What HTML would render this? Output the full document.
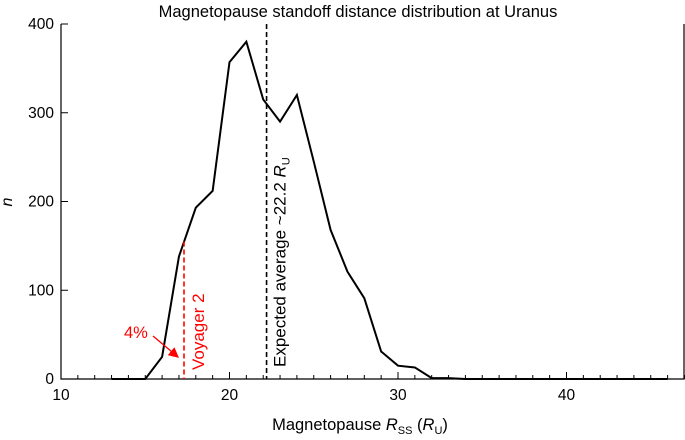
<!DOCTYPE html>
<html><head><meta charset="utf-8"><style>
body{margin:0;background:#fff}
svg text{font-family:"Liberation Sans",sans-serif}
</style></head><body>
<svg width="685" height="435" xmlns="http://www.w3.org/2000/svg">
<defs><marker id="ah" markerWidth="8" markerHeight="8" refX="7" refY="4" orient="auto"><path d="M0,0 L8,4 L0,8 z" fill="#f00"/></marker></defs>
<text x="358" y="17" font-size="16.5" text-anchor="middle">Magnetopause standoff distance distribution at Uranus</text>
<g id="axes"></g>
<g id="plot"></g>
<text x="360" y="430" font-size="16.5" text-anchor="middle">Magnetopause <tspan font-style="italic">R</tspan><tspan font-size="11" dy="4">SS</tspan><tspan dy="-4"> (</tspan><tspan font-style="italic">R</tspan><tspan font-size="11" dy="4">U</tspan><tspan dy="-4">)</tspan></text>
<text x="12" y="202" font-size="16" font-style="italic" text-anchor="middle" transform="rotate(-90 12 202)">n</text>
</svg>
<script>
const xs=[13,14,15,16,17,18,19,20,21,22,23,24,25,26,27,28,29,30,31,32,33,34,35,36,37,38,39,40,41,42,43,44,45,46];
const ns=[0,0,0,25,138,193,212,357,380,315,290,320,245,168,121,91,31,15,13,1,1,0,0,0,0,0,0,0,0,0,0,0,0,0];
const xTicks=[10,20,30,40];
const yTicks=[0,100,200,300,400];
const avgVal=22.2, voyVal=17.3, voyTop=155;
const L=61,R=684,T=24,B=379;
const sx=v=>L+(v-10)*16.85, sy=v=>B-v*0.8875;
const NS='http://www.w3.org/2000/svg';
const ax=document.getElementById('axes'), pl=document.getElementById('plot');
function mk(p,tag,at){const e=document.createElementNS(NS,tag);for(const k in at)e.setAttribute(k,at[k]);p.appendChild(e);return e;}
let e=mk(ax,'path',{d:`M${L},${T} L${L},${B} L${R},${B} L${R},${T}`,fill:'none',stroke:'#000','stroke-width':1.2});


for(let v=10;v<=47;v++){const big=v%10==0;const t=mk(ax,'line',{x1:sx(v),x2:sx(v),y1:B,y2:B-(big?7:4),stroke:'#000'});

}
xTicks.forEach(v=>{const t=mk(ax,'text',{x:sx(v),y:B+21,'font-size':15.5,'text-anchor':'middle'});t.textContent=v;

});
yTicks.forEach(v=>{mk(ax,'line',{x1:L,x2:L+7,y1:sy(v),y2:sy(v),stroke:'#000'});
const t=mk(ax,'text',{x:L-7,y:sy(v)+5,'font-size':15.5,'text-anchor':'end'});t.textContent=v;

});
e=mk(pl,'polyline',{points:xs.map((x,i)=>sx(x)+','+sy(ns[i])).join(' '),fill:'none',stroke:'#000','stroke-width':2,'stroke-linejoin':'miter'});


e=mk(pl,'line',{x1:sx(avgVal),x2:sx(avgVal),y1:T,y2:B,stroke:'#000','stroke-width':1.6,'stroke-dasharray':'5,3'});


e=mk(pl,'text',{x:0,y:0,'font-size':17,transform:`translate(${sx(avgVal)+19},${B-12}) rotate(-90)`});
e.innerHTML='Expected average ~22.2 <tspan font-style="italic">R</tspan><tspan font-size="11" dy="4">U</tspan>';


e=mk(pl,'line',{x1:sx(voyVal),x2:sx(voyVal),y1:sy(voyTop),y2:B,stroke:'#f00','stroke-width':1.6,'stroke-dasharray':'5,3'});


e=mk(pl,'text',{x:0,y:0,'font-size':17,fill:'#f00',transform:`translate(${sx(voyVal)+20},${B-9}) rotate(-90)`});
e.textContent='Voyager 2';


e=mk(pl,'text',{x:124,y:338,'font-size':16.5,fill:'#f00'});e.textContent='4%';


e=mk(pl,'line',{x1:153,y1:336,x2:178,y2:357,stroke:'#f00','stroke-width':1.3,'marker-end':'url(#ah)'});


</script>
</body></html>
